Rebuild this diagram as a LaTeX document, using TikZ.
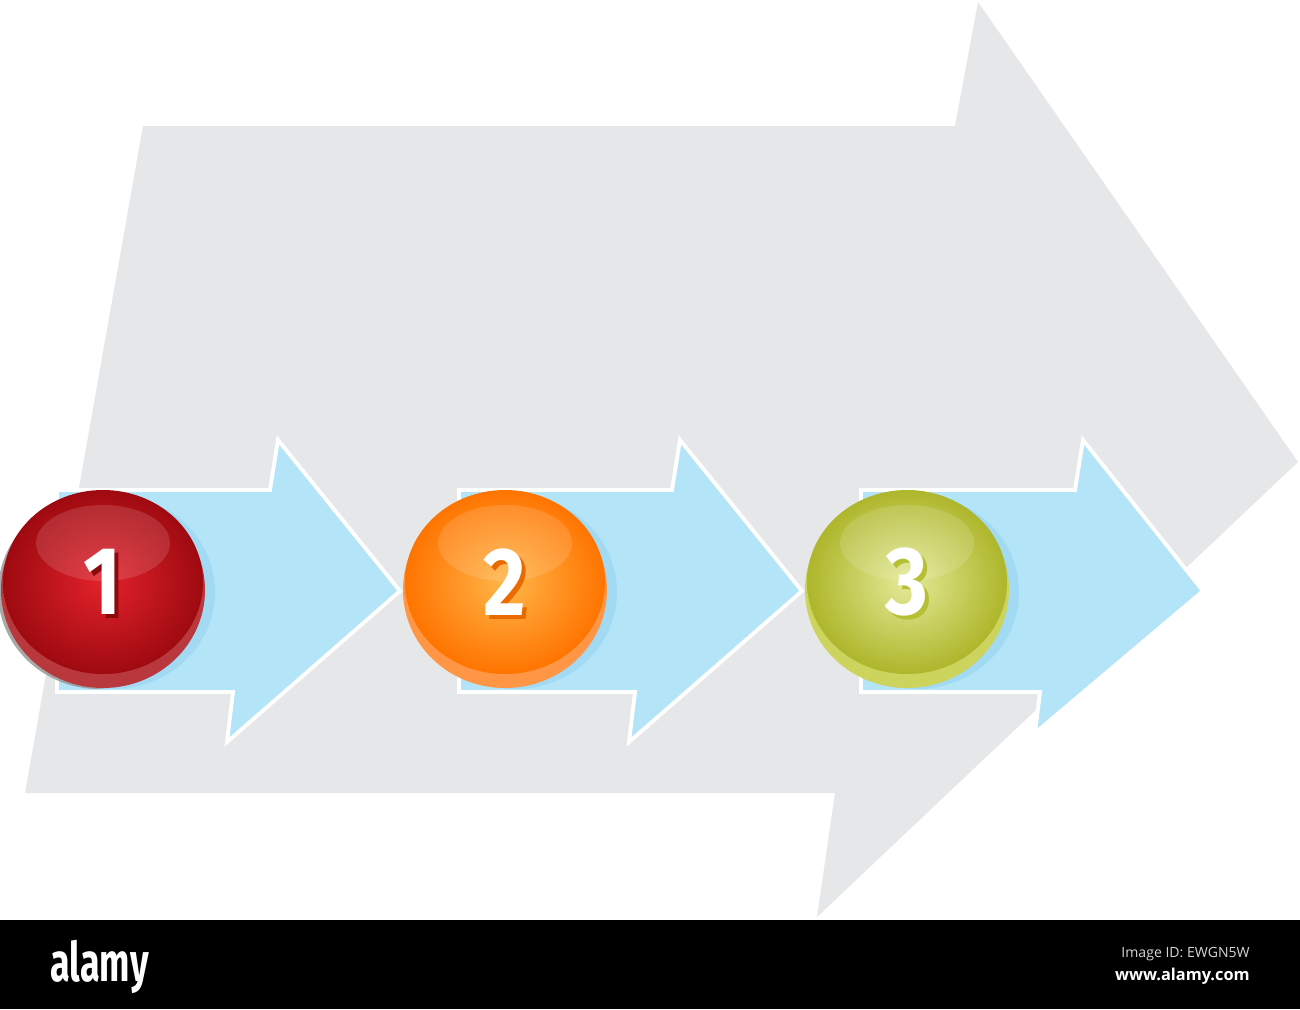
\documentclass[tikz,border=0pt]{standalone}
\usepackage{fontspec}
\newfontfamily\digitfont{Fira Sans}
\newfontfamily\barfont{Open Sans}
\definecolor{bggrey}{HTML}{E6E7E8}
\definecolor{arrowblue}{HTML}{B3E4F7}
\definecolor{glowblue}{HTML}{A3DAF3}
\definecolor{redout}{HTML}{9E0A10}
\definecolor{redin}{HTML}{E3222B}
\definecolor{redrim}{HTML}{B8383D}
\definecolor{redsh}{HTML}{8A0A0E}
\definecolor{orout}{HTML}{FF7400}
\definecolor{orin}{HTML}{FFB64A}
\definecolor{orrim}{HTML}{FF9645}
\definecolor{orsh}{HTML}{E86A00}
\definecolor{grout}{HTML}{AEB62B}
\definecolor{grin}{HTML}{E4EA98}
\definecolor{grrim}{HTML}{CDD45E}
\definecolor{grsh}{HTML}{B7BF35}
\definecolor{idgrey}{HTML}{D6D6D6}
\tikzset{
  blueflow/.style={fill=arrowblue, draw=white, line width=2.2pt, line join=miter},
  digit/.style={text=white, font=\digitfont\bfseries\fontsize{55}{55}\selectfont, inner sep=0pt},
}
\newcommand{\ballshape}[7]{% #1 x, #2 name, #3 outer, #4 inner, #5 rim, #6 shadow col, #7 digit
  \fill[glowblue] (#1+10,592) ellipse [x radius=102, y radius=97];
  \fill[#5] (#1,590) ellipse [x radius=102, y radius=98];
  \shade[inner color=#4, outer color=#3] (#1,582) ellipse [x radius=100, y radius=92];
  \fill[white, opacity=0.13] (#1,543) ellipse [x radius=67, y radius=38];
  \node[digit] (#2) at (#1,584) {\scalebox{0.85}[1]{\rlap{\kern2.6pt\raisebox{-2.6pt}{\textcolor{#6}{#7}}}#7}};
}
\begin{document}
\begin{tikzpicture}[x=0.02cm, y=-0.02cm]
\useasboundingbox (0,0) rectangle (1300,1009);
\fill[white] (0,0) rectangle (1300,1009);
% big background arrow
\fill[bggrey] (143,126) -- (955,126) -- (978,2) -- (1298,462) -- (817,917) -- (835,793) -- (25,793) -- cycle;
% blue flow arrows
\filldraw[blueflow] (57,490) -- (270,490) -- (278,440) -- (400,591) -- (227,742) -- (233,692) -- (57,692) -- cycle;
\filldraw[blueflow] (459,490) -- (672,490) -- (680,440) -- (802,591) -- (629,742) -- (635,692) -- (459,692) -- cycle;
\filldraw[blueflow] (861,490) -- (1075,490) -- (1083,440) -- (1203,591) -- (1035,733) -- (1040,692) -- (861,692) -- cycle;
% shadow under first ball
\fill[gray!85, opacity=0.8] (99,592) ellipse [x radius=101, y radius=97];
% balls
\ballshape{103}{one}{redout}{redin}{redrim}{redsh}{1}
\ballshape{505}{two}{orout}{orin}{orrim}{orsh}{2}
\ballshape{907}{three}{grout}{grin}{grrim}{grsh}{3}
% bottom bar
\fill[black] (0,920) rectangle (1300,1009);
\node[text=white, inner sep=0pt, anchor=base west, font=\digitfont\bfseries\fontsize{31}{31}\selectfont] (logo) at (50,981) {\scalebox{0.66}[1]{alamy}};
\node[text=idgrey, inner sep=0pt, anchor=base east, font=\barfont\fontsize{8}{8}\selectfont] (imgid) at (1250,957) {Image ID: EWGN5W};
\node[text=white, inner sep=0pt, anchor=base east, font=\barfont\bfseries\fontsize{9.3}{9.3}\selectfont] (url) at (1250,980) {www.alamy.com};
\end{tikzpicture}
\end{document}
